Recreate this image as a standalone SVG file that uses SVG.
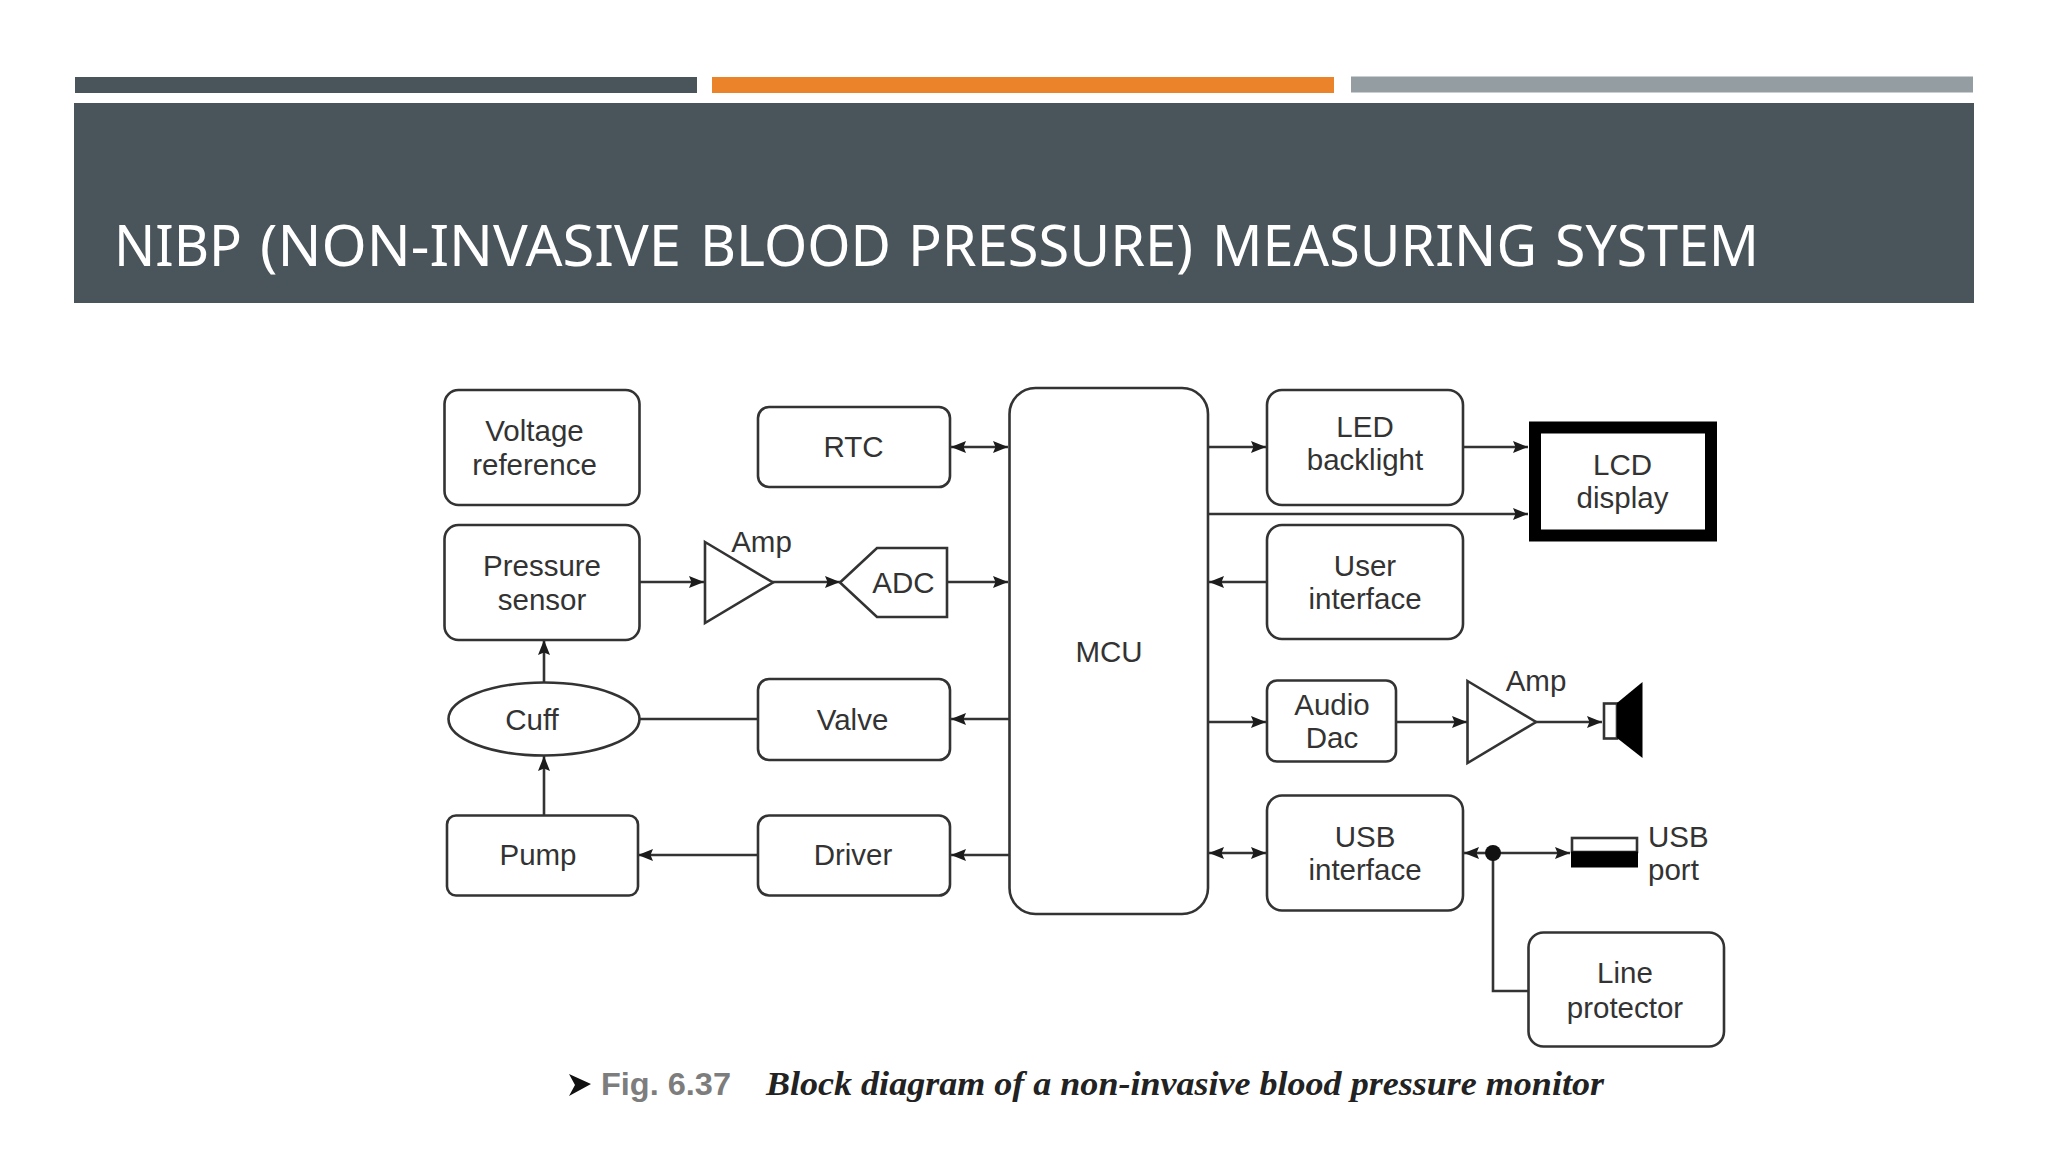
<svg xmlns="http://www.w3.org/2000/svg" width="2048" height="1152" viewBox="0 0 2048 1152">
<style>
.box{fill:#fff;stroke:#333;stroke-width:2.6}
.ln{fill:none;stroke:#333;stroke-width:2.6}
.end{marker-end:url(#ah)}
.both{marker-start:url(#ah);marker-end:url(#ah)}
.start{marker-start:url(#ah)}
.t{font-family:"Liberation Sans",Arial,sans-serif;font-size:29.500px;fill:#333;text-anchor:middle}
.title{font-family:"Noto Sans",sans-serif;font-size:57px;fill:#fff}
</style>
<defs>
<marker id="ah" markerUnits="userSpaceOnUse" markerWidth="16" markerHeight="14" refX="15" refY="7" orient="auto-start-reverse">
<path d="M0,1 L15,7 L0,13 L2.500,7 Z" fill="#1c1c1c"/>
</marker>
</defs>
<rect width="2048" height="1152" fill="#fff"/>
<g id="header">
<rect x="75" y="77" width="622" height="16" fill="#4a555b"/>
<rect x="712" y="77" width="622" height="16" fill="#ea8329"/>
<rect x="1351" y="76.500" width="622" height="16" fill="#949da2"/>
<rect x="74" y="103" width="1900" height="200" fill="#4a555b"/>
<text class="title" y="266"><tspan x="114" textLength="128" lengthAdjust="spacingAndGlyphs">NIBP</tspan> <tspan x="260" textLength="421" lengthAdjust="spacingAndGlyphs">(NON-INVASIVE</tspan> <tspan x="700" textLength="191" lengthAdjust="spacingAndGlyphs">BLOOD</tspan> <tspan x="908" textLength="285" lengthAdjust="spacingAndGlyphs">PRESSURE)</tspan> <tspan x="1212" textLength="325" lengthAdjust="spacingAndGlyphs">MEASURING</tspan> <tspan x="1555" textLength="204" lengthAdjust="spacingAndGlyphs">SYSTEM</tspan></text>
</g>
<g id="connectors">
<path class="ln both" d="M951 447H1008"/>
<path class="ln end" d="M640 582H704"/>
<path class="ln end" d="M772 582H840"/>
<path class="ln end" d="M948 582H1008"/>
<path class="ln end" d="M544 682V640"/>
<path class="ln end" d="M544 815V756"/>
<path class="ln" d="M640 719H758"/>
<path class="ln end" d="M1009 719H951"/>
<path class="ln end" d="M1009 855H951"/>
<path class="ln end" d="M758 855H638"/>
<path class="ln end" d="M1208 447H1266"/>
<path class="ln end" d="M1463 447H1528"/>
<path class="ln end" d="M1208 514H1528"/>
<path class="ln end" d="M1267 582H1209"/>
<path class="ln end" d="M1208 722H1266"/>
<path class="ln end" d="M1396 722H1467"/>
<path class="ln end" d="M1534 722H1602"/>
<path class="ln both" d="M1209 853H1266"/>
<path class="ln start" d="M1464 853H1493"/>
<path class="ln end" d="M1493 853H1570"/>
<path class="ln" d="M1493 853V991H1528"/>
<circle cx="1493" cy="853" r="8" fill="#111"/>
</g>
<g id="voltage"><rect class="box" x="444.500" y="390" width="195" height="115" rx="14"/><text class="t" x="534.500" y="441">Voltage</text><text class="t" x="534.500" y="475">reference</text></g>
<g id="rtc"><rect class="box" x="758" y="407" width="192" height="80" rx="11"/><text class="t" x="853.500" y="457">RTC</text></g>
<g id="pressure"><rect class="box" x="444.500" y="525" width="195" height="115" rx="14"/><text class="t" x="542" y="576">Pressure</text><text class="t" x="542" y="610">sensor</text></g>
<g id="amp1"><polygon class="box" points="705,542 773,582.500 705,623"/><text class="t" x="761.500" y="552">Amp</text></g>
<g id="adc"><polygon class="box" points="840,582.500 877,548 947,548 947,617 877,617"/><text class="t" x="903.500" y="593">ADC</text></g>
<g id="cuff"><ellipse class="box" cx="544" cy="719" rx="95.500" ry="36.500"/><text class="t" x="532" y="730">Cuff</text></g>
<g id="valve"><rect class="box" x="758" y="679" width="192" height="81" rx="11"/><text class="t" x="852.500" y="730">Valve</text></g>
<g id="pump"><rect class="box" x="447" y="815.500" width="191" height="80" rx="9"/><text class="t" x="538" y="865">Pump</text></g>
<g id="driver"><rect class="box" x="758" y="815.500" width="192" height="80" rx="11"/><text class="t" x="853" y="865">Driver</text></g>
<g id="mcu"><rect class="box" x="1009.500" y="388" width="198.500" height="526" rx="26"/><text class="t" x="1109" y="662">MCU</text></g>
<g id="led"><rect class="box" x="1267" y="390" width="196" height="115" rx="15"/><text class="t" x="1365" y="437">LED</text><text class="t" x="1365" y="470">backlight</text></g>
<g id="lcd"><rect x="1535" y="427.500" width="176" height="108" fill="#fff" stroke="#000" stroke-width="12"/><text class="t" x="1622.500" y="475">LCD</text><text class="t" x="1622.500" y="508">display</text></g>
<g id="user"><rect class="box" x="1267" y="525" width="196" height="114" rx="15"/><text class="t" x="1365" y="576">User</text><text class="t" x="1365" y="609">interface</text></g>
<g id="audio"><rect class="box" x="1267" y="680.500" width="129" height="81" rx="10"/><text class="t" x="1332" y="715">Audio</text><text class="t" x="1332" y="748">Dac</text></g>
<g id="amp2"><polygon class="box" points="1467.500,681 1536,722 1467.500,763"/><text class="t" x="1536" y="691">Amp</text></g>
<g id="speaker"><rect class="box" x="1604" y="703.500" width="13" height="35"/><polygon points="1617,703 1642.500,682 1642.500,758 1617,738" fill="#000"/></g>
<g id="usbif"><rect class="box" x="1267" y="795.500" width="196" height="115" rx="15"/><text class="t" x="1365" y="847">USB</text><text class="t" x="1365" y="880">interface</text></g>
<g id="usbport"><rect class="box" x="1572" y="838" width="65" height="14"/><rect x="1571" y="851.500" width="67" height="16" fill="#000"/><text class="t" style="text-anchor:start" x="1648" y="847">USB</text><text class="t" style="text-anchor:start" x="1648" y="880">port</text></g>
<g id="line"><rect class="box" x="1528.500" y="932.500" width="195.500" height="114" rx="15"/><text class="t" x="1625" y="983">Line</text><text class="t" x="1625" y="1018">protector</text></g>
<g id="caption">
<polygon points="569,1074 591,1084 569,1096 575,1085" fill="#111"/>
<text x="601" y="1095" font-family="Liberation Sans,Arial,sans-serif" font-weight="700" font-size="31" fill="#7d7d7d" textLength="130" lengthAdjust="spacingAndGlyphs">Fig. 6.37</text>
<text x="766" y="1095" font-family="Liberation Serif,Times New Roman,serif" font-weight="700" font-style="italic" font-size="33" fill="#222" textLength="838" lengthAdjust="spacingAndGlyphs">Block diagram of a non-invasive blood pressure monitor</text>
</g>
</svg>
